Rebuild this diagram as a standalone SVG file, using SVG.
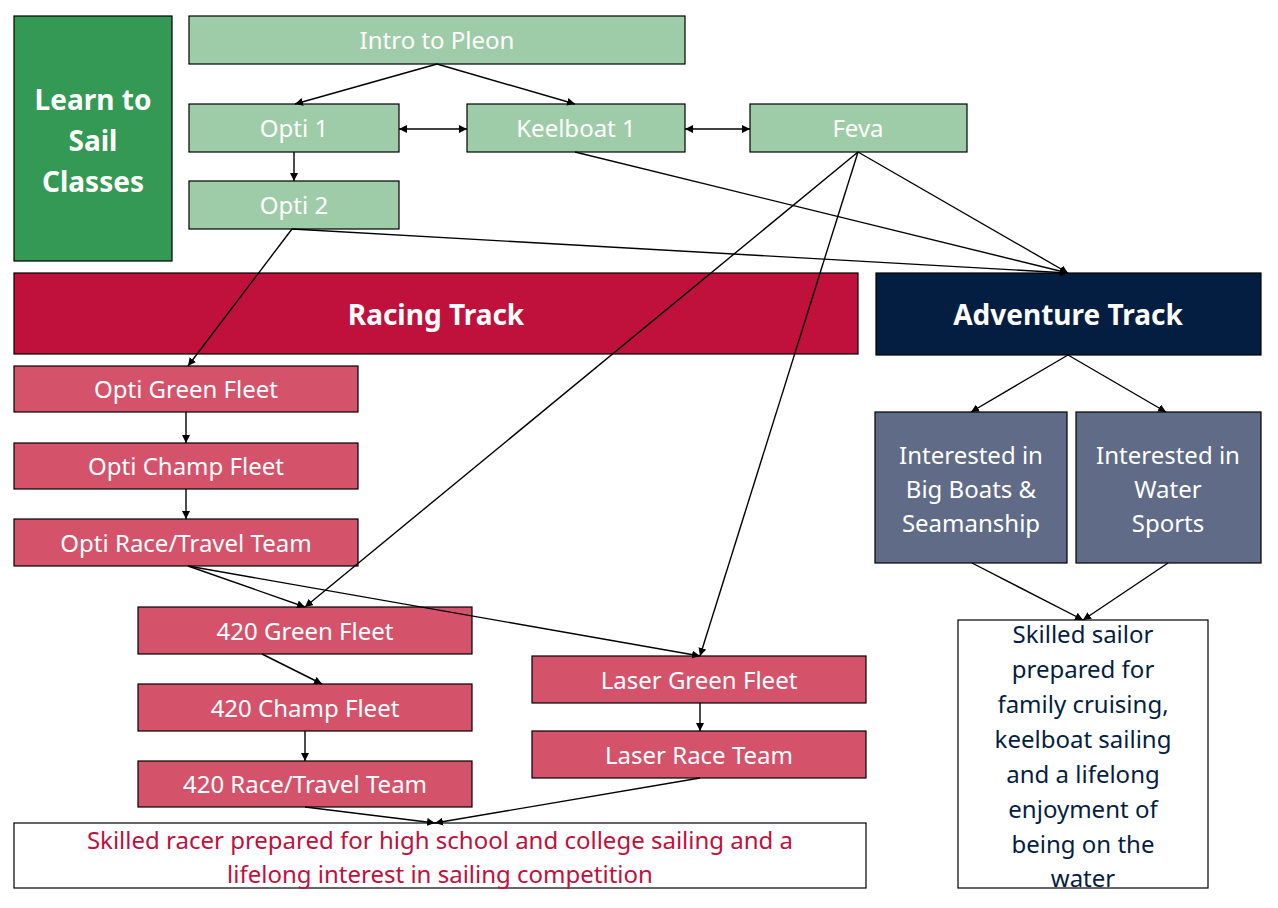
<svg xmlns="http://www.w3.org/2000/svg" width="1278" height="908" viewBox="0 0 1278 908">
<style>
.g{fill:#9fcca8;stroke:#000;stroke-width:1.2}
.r{fill:#d4536b;stroke:#000;stroke-width:1.2}
.s{fill:#5f6b87;stroke:#000;stroke-width:1.2}
.w{fill:#fff;stroke:#000;stroke-width:1.2}
text{font-family:"Noto Sans","Open Sans",sans-serif;font-size:24px;fill:#fff;text-anchor:middle}
.b{font-weight:bold;font-size:28px}
.c line{stroke:#000;stroke-width:1.4;marker-end:url(#a)}
</style>
<defs><marker id="a" viewBox="0 0 10 10" refX="10" refY="5" markerWidth="8" markerHeight="8" orient="auto-start-reverse" markerUnits="userSpaceOnUse"><path d="M0,0L10,5L0,10z" fill="#000"/></marker></defs>
<rect width="1278" height="908" fill="#fff"/>
<g id="learn"><rect x="14" y="16" width="158" height="245" fill="#339954" stroke="#000" stroke-width="1.2"/><text class="b" x="93" y="110">Learn to</text><text class="b" x="93" y="151">Sail</text><text class="b" x="93" y="192">Classes</text></g>
<g id="intro"><rect class="g" x="189" y="16" width="496" height="48"/><text x="437" y="49">Intro to Pleon</text></g>
<g id="opti1"><rect class="g" x="189" y="104" width="210" height="48"/><text x="294" y="137">Opti 1</text></g>
<g id="keel1"><rect class="g" x="467" y="104" width="218" height="48"/><text x="576" y="137">Keelboat 1</text></g>
<g id="feva"><rect class="g" x="750" y="104" width="217" height="48"/><text x="858" y="137">Feva</text></g>
<g id="opti2"><rect class="g" x="189" y="181" width="210" height="48"/><text x="294" y="214">Opti 2</text></g>
<g id="racing"><rect x="14" y="273" width="844" height="81" fill="#c0103c" stroke="#000" stroke-width="1.2"/><text class="b" x="436" y="325">Racing Track</text></g>
<g id="adventure"><rect x="876" y="273" width="385" height="82" fill="#041e42" stroke="#000" stroke-width="1.2"/><text class="b" x="1068" y="325">Adventure Track</text></g>
<g id="optigreen"><rect class="r" x="14" y="366" width="344" height="46"/><text x="186" y="398">Opti Green Fleet</text></g>
<g id="optichamp"><rect class="r" x="14" y="443" width="344" height="46"/><text x="186" y="475">Opti Champ Fleet</text></g>
<g id="optirace"><rect class="r" x="14" y="519" width="344" height="47"/><text x="186" y="552">Opti Race/Travel Team</text></g>
<g id="g420"><rect class="r" x="138" y="607" width="334" height="47"/><text x="305" y="640">420 Green Fleet</text></g>
<g id="c420"><rect class="r" x="138" y="684" width="334" height="47"/><text x="305" y="717">420 Champ Fleet</text></g>
<g id="r420"><rect class="r" x="138" y="761" width="334" height="46"/><text x="305" y="793">420 Race/Travel Team</text></g>
<g id="lasergreen"><rect class="r" x="532" y="656" width="334" height="47"/><text x="699" y="689">Laser Green Fleet</text></g>
<g id="laserrace"><rect class="r" x="532" y="731" width="334" height="47"/><text x="699" y="764">Laser Race Team</text></g>
<g id="racer"><rect class="w" x="14" y="823" width="852" height="65"/><text x="440" y="849" style="fill:#c0103c">Skilled racer prepared for high school and college sailing and a</text><text x="440" y="883" style="fill:#c0103c">lifelong interest in sailing competition</text></g>
<g id="big"><rect class="s" x="875" y="412" width="192" height="151"/><text x="971" y="464">Interested in</text><text x="971" y="498">Big Boats &amp;</text><text x="971" y="532">Seamanship</text></g>
<g id="water"><rect class="s" x="1076" y="412" width="185" height="151"/><text x="1168" y="464">Interested in</text><text x="1168" y="498">Water</text><text x="1168" y="532">Sports</text></g>
<g id="sailor"><rect class="w" x="958" y="620" width="250" height="268"/>
<g style="fill:#041e42"><text x="1083" y="643" style="fill:#041e42">Skilled sailor</text><text x="1083" y="678" style="fill:#041e42">prepared for</text><text x="1083" y="713" style="fill:#041e42">family cruising,</text><text x="1083" y="748" style="fill:#041e42">keelboat sailing</text><text x="1083" y="783" style="fill:#041e42">and a lifelong</text><text x="1083" y="818" style="fill:#041e42">enjoyment of</text><text x="1083" y="853" style="fill:#041e42">being on the</text><text x="1083" y="887" style="fill:#041e42">water</text></g></g>
<g id="connectors" class="c">
<line x1="437" y1="64" x2="295" y2="104"/>
<line x1="437" y1="64" x2="575" y2="104"/>
<line x1="399" y1="129" x2="467" y2="129" marker-start="url(#a)"/>
<line x1="685" y1="129" x2="750" y2="129" marker-start="url(#a)"/>
<line x1="294" y1="152" x2="294" y2="181"/>
<line x1="292" y1="229" x2="188" y2="366"/>
<line x1="292" y1="229" x2="1068" y2="273"/>
<line x1="575" y1="152" x2="1068" y2="273"/>
<line x1="858" y1="152" x2="1068" y2="273"/>
<line x1="858" y1="152" x2="305" y2="607"/>
<line x1="858" y1="152" x2="700" y2="656"/>
<line x1="1068" y1="355" x2="971" y2="412"/>
<line x1="1068" y1="355" x2="1166" y2="412"/>
<line x1="186" y1="412" x2="186" y2="443"/>
<line x1="186" y1="489" x2="186" y2="519"/>
<line x1="188" y1="566" x2="305" y2="607"/>
<line x1="188" y1="566" x2="700" y2="656"/>
<line x1="262" y1="654" x2="322" y2="684"/>
<line x1="305" y1="731" x2="305" y2="761"/>
<line x1="700" y1="703" x2="700" y2="731"/>
<line x1="305" y1="807" x2="435" y2="823"/>
<line x1="700" y1="778" x2="435" y2="823"/>
<line x1="972" y1="563" x2="1083" y2="620"/>
<line x1="1168" y1="563" x2="1083" y2="620"/>
</g>
</svg>
